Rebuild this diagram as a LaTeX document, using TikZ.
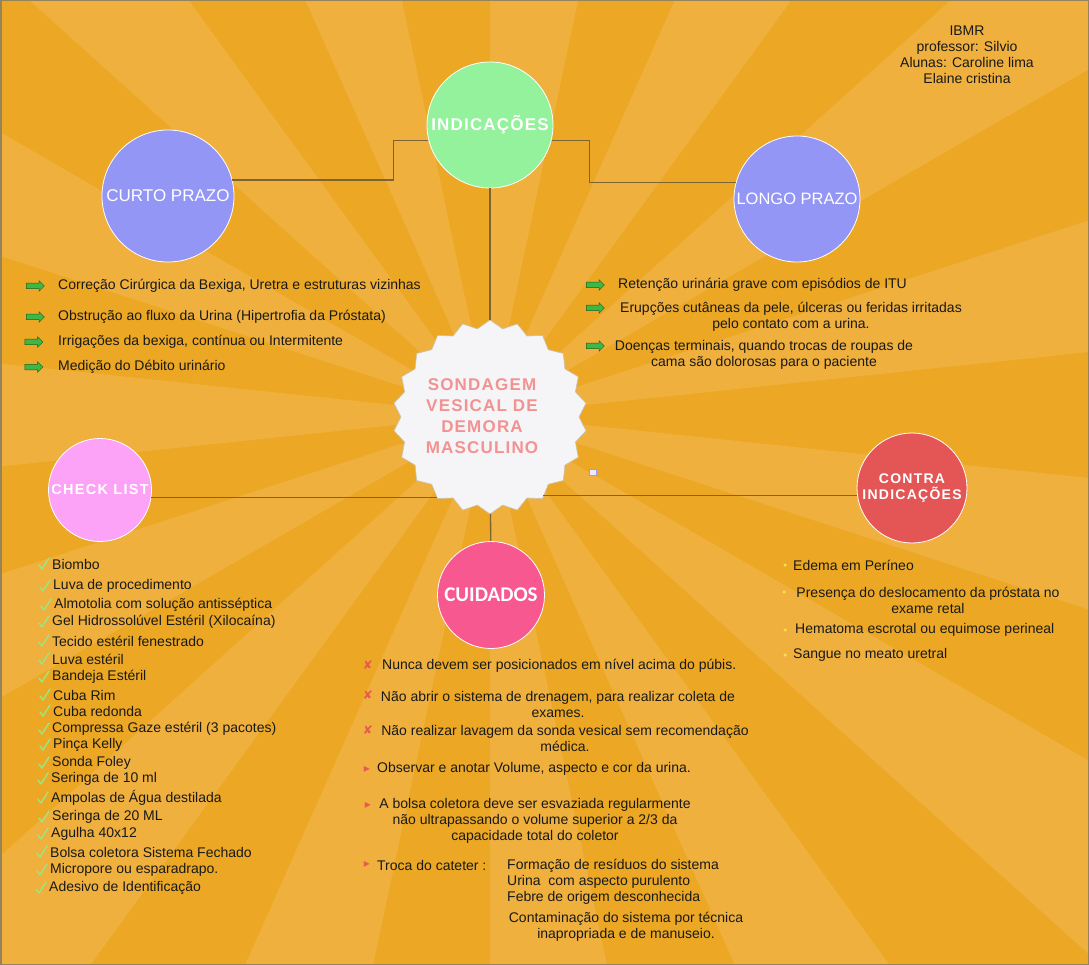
\documentclass[tikz,border=0pt]{standalone}
\usepackage{fontspec}
\setmainfont{Liberation Sans}
\newfontfamily\symbfont{DejaVu Sans}
\newfontfamily\spacedfont[LetterSpace=7]{Liberation Sans}
\newfontfamily\widefont[LetterSpace=9]{Liberation Sans}
\newfontfamily\cuidfont{Carlito}
\usetikzlibrary{calc,positioning,shapes.geometric,shapes.arrows}

\definecolor{bgdark}{HTML}{ECA824}
\definecolor{bglight}{HTML}{EFB03E}
\definecolor{linebrown}{HTML}{7D6431}
\definecolor{prazoblue}{HTML}{9396F5}
\definecolor{indgreen}{HTML}{93F29B}
\definecolor{checkpink}{HTML}{FCA2F7}
\definecolor{cuidpink}{HTML}{F6588F}
\definecolor{contrared}{HTML}{E45656}
\definecolor{starfill}{HTML}{F5F5F7}
\definecolor{titlepink}{HTML}{F29292}
\definecolor{arrowgreen}{HTML}{3DB845}
\definecolor{tickgreen}{HTML}{9BE683}
\definecolor{crossred}{HTML}{E8594F}
\definecolor{dotyellow}{HTML}{F6E34A}

\begin{document}
\begin{tikzpicture}[x=1pt,y=-1pt,
                    main node/.style={circle,draw=white,line width=0.8pt,inner sep=0pt,text=white},
                    link/.style={draw=linebrown,line width=1.3pt},
                    item/.style={font=\fontsize{14}{16}\selectfont,text=black!90,inner sep=0pt},
                    go arrow/.style={single arrow,fill=arrowgreen,draw=arrowgreen!50!black,line width=0.5pt,
                      minimum height=18pt,inner xsep=0pt,inner ysep=2.5pt,single arrow head extend=2.5pt},
                    tick mark/.style={draw=tickgreen,line width=1.4pt,line cap=round,line join=round},
                    cross/.style={font=\symbfont\fontsize{12}{12}\selectfont,text=crossred,inner sep=0pt},
                    tri/.style={font=\symbfont\fontsize{12}{12}\selectfont,text=crossred,inner sep=0pt},
                    dot/.style={circle,fill=dotyellow,inner sep=0pt,minimum size=3.5pt}]

  \useasboundingbox (0,0) rectangle (1089,965);
  \fill[bgdark] (0,0) rectangle (1089,965);
  \begin{scope}
    \clip (0,0) rectangle (1089,965);
    \foreach \a in {6,30,...,342}
      \fill[bglight] (490,415) -- +(\a:1600) -- +(\a+12:1600) -- cycle;
  \end{scope}
  \draw[draw=linebrown!80,line width=1.5pt] (0.75,0.75) rectangle (1088.25,964.25);

  \node[star,star points=22,star point ratio=1.09,minimum size=194pt,inner sep=0pt,
        fill=starfill,draw=linebrown!40,line width=0.6pt] (0) at (490,417) {};
  \node[align=center,text=titlepink,font=\spacedfont\bfseries\fontsize{17}{21}\selectfont] (title) at (482,416)
    {SONDAGEM\\VESICAL DE\\DEMORA\\MASCULINO};

  \node[main node,fill=indgreen,minimum size=126pt,font=\spacedfont\bfseries\fontsize{17}{20}\selectfont] (1) at (490,125) {INDICAÇÕES};
  \node[main node,fill=prazoblue,minimum size=132pt,font=\fontsize{17}{20}\selectfont] (2) at (168,196) {CURTO PRAZO};
  \node[main node,fill=prazoblue,minimum size=126pt,font=\fontsize{16.5}{20}\selectfont] (3) at (797,199) {LONGO PRAZO};
  \node[main node,fill=checkpink,minimum size=103pt,font=\widefont\bfseries\fontsize{14.5}{17}\selectfont] (4) at (100,490) {CHECK LIST};
  \node[main node,fill=cuidpink,minimum size=107pt,font=\cuidfont\bfseries\fontsize{21}{24}\selectfont] (5) at (491,595) {CUIDADOS};
  \node[main node,fill=contrared,minimum size=110pt,align=center,font=\widefont\bfseries\fontsize{14}{16}\selectfont] (6) at (912,488) {CONTRA\\INDICAÇÕES};

  \draw[link] (1.194) -- ++(-35,0) |- (2.14);
  \draw[link] (1.-14) -- ++(38,0) |- (3.165);
  \draw[link] (4.-8) -- (4.-8 -| 0.237);
  \draw[link] (6.188) -- (6.188 -| 0.-57);
  \path[every edge/.style={link}]
    (1) edge (0)
    (5) edge (0);

  \node[draw=blue!40,fill=blue!8,minimum width=7pt,minimum height=6pt,inner sep=0pt] (note) at (593,472) {};

  \node[item,align=center] (credits) at (967,54.5) {IBMR\\professor: Silvio\\Alunas: Caroline lima\\Elaine cristina};

  \foreach \i/\x/\y/\t in {1/34/286/{Correção Cirúrgica da Bexiga, Uretra e estruturas vizinhas},
                          2/34/317/{Obstrução ao fluxo da Urina (Hipertrofia da Próstata)},
                          3/32.5/342/{Irrigações da bexiga, contínua ou Intermitente},
                          4/32.5/367/{Medição do Débito urinário}}{
    \node[go arrow] (a\i) at (\x,\y) {};
    \node[item,anchor=west] (ta\i) at (58,\y) {\t};
  }

  \node[go arrow] (b1) at (594,285) {};
  \node[go arrow] (b2) at (594,308) {};
  \node[go arrow] (b3) at (594,346) {};
  \node[item,anchor=west] (tb1) at (618,285) {Retenção urinária grave com episódios de ITU};
  \node[item,align=center] (tb2) at (791,316.5) {Erupções cutâneas da pele, úlceras ou feridas irritadas\\pelo contato com a urina.};
  \node[item,align=center] (tb3) at (764,354.5) {Doenças terminais, quando trocas de roupas de\\cama são dolorosas para o paciente};

  \foreach \i/\x/\y/\t in {1/52/564/{Biombo},
                          2/53/586/{Luva de procedimento},
                          3/54/605/{Almotolia com solução antisséptica},
                          4/52/622/{Gel Hidrossolúvel Estéril (Xilocaína)},
                          5/52/641/{Tecido estéril fenestrado},
                          6/52/659/{Luva estéril},
                          7/52/677/{Bandeja Estéril},
                          8/53/695/{Cuba Rim},
                          9/53/711/{Cuba redonda},
                          10/52/729/{Compressa Gaze estéril (3 pacotes)},
                          11/53/745/{Pinça Kelly},
                          12/52/763/{Sonda Foley},
                          13/51/779/{Seringa de 10 ml},
                          14/51/798/{Ampolas de Água destilada},
                          15/52/817/{Seringa de 20 ML},
                          16/51/834/{Agulha 40x12},
                          17/50/852/{Bolsa coletora Sistema Fechado},
                          18/50/870/{Micropore ou esparadrapo.},
                          19/49/888/{Adesivo de Identificação}}{
    \node[item,anchor=west] (tk\i) at (\x,\y) {\t};
    \draw[tick mark] ($(tk\i.west)+(-13,1)$) -- ++(3,4) -- ++(7,-11);
  }

  \node[cross] (c1) at (368,665) {✘};
  \node[cross] (c2) at (368,695) {✘};
  \node[cross] (c3) at (368,730) {✘};
  \node[tri] (c4) at (367,769) {▸};
  \node[tri] (c5) at (368,805) {▸};
  \node[tri] (c6) at (367,864) {▸};
  \node[item,anchor=west] (tc1) at (382,666) {Nunca devem ser posicionados em nível acima do púbis.};
  \node[item,align=center] (tc2) at (558,704) {Não abrir o sistema de drenagem, para realizar coleta de\\exames.};
  \node[item,align=center] (tc3) at (565,738.5) {Não realizar lavagem da sonda vesical sem recomendação\\médica.};
  \node[item,anchor=west] (tc4) at (377,769) {Observar e anotar Volume, aspecto e cor da urina.};
  \node[item,align=center] (tc5) at (535,821) {A bolsa coletora deve ser esvaziada regularmente\\não ultrapassando o volume superior a 2/3 da\\capacidade total do coletor};
  \node[item,anchor=west] (tc6) at (377,865) {Troca do cateter :};
  \node[item,align=left,anchor=west] (tc7) at (507,881.5) {Formação de resíduos do sistema\\Urina~ com aspecto purulento\\Febre de origem desconhecida};
  \node[item,align=center] (tc8) at (626,926.5) {Contaminação do sistema por técnica\\inapropriada e de manuseio.};

  \foreach \i/\x/\y in {1/785/565,2/784/592,3/785/630,4/785/655}
    \node[dot] (d\i) at (\x,\y) {};
  \node[item,anchor=west] (td1) at (793,565) {Edema em Períneo};
  \node[item,align=center] (td2) at (928,600) {Presença do deslocamento da próstata no\\exame retal};
  \node[item,anchor=west] (td3) at (795,630) {Hematoma escrotal ou equimose perineal};
  \node[item,anchor=west] (td4) at (793,655) {Sangue no meato uretral};

\end{tikzpicture}
\end{document}
